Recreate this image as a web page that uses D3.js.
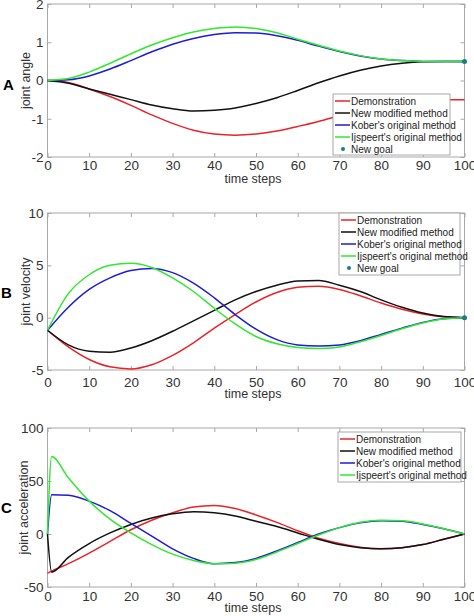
<!DOCTYPE html>
<html>
<head>
<meta charset="utf-8">
<script src="https://cdn.jsdelivr.net/npm/d3@7"></script>
<style>
  body { margin: 0; background: #fff; }
  svg { font-family: "Liberation Sans", Arial, sans-serif; }
</style>
</head>
<body>
<svg id="chart" width="474" height="616"></svg>
<script>
//data
const STEPS = [0, 5, 10, 15, 20, 25, 30, 35, 40, 45, 50, 55, 60, 65, 70, 75, 80, 85, 90, 95, 100];
const ACC_STEPS = [0, 1, 5, 10, 15, 20, 25, 30, 35, 40, 45, 50, 55, 60, 65, 70, 75, 80, 85, 90, 95, 100];

const angleDemo = [0, -0.05, -0.22, -0.42, -0.65, -0.9, -1.12, -1.3, -1.4, -1.43, -1.4, -1.32, -1.2, -1.07, -0.92, -0.78, -0.65, -0.56, -0.51, -0.5, -0.5];
const angleNew = [0, -0.07, -0.22, -0.36, -0.5, -0.64, -0.74, -0.8, -0.78, -0.72, -0.6, -0.45, -0.26, -0.06, 0.12, 0.27, 0.38, 0.45, 0.49, 0.5, 0.5];
const angleKober = [0, 0.02, 0.12, 0.3, 0.52, 0.75, 0.95, 1.1, 1.2, 1.25, 1.24, 1.17, 1.05, 0.9, 0.76, 0.64, 0.56, 0.52, 0.5, 0.5, 0.5];
const angleIjspeert = [0, 0.05, 0.22, 0.45, 0.7, 0.93, 1.12, 1.27, 1.36, 1.4, 1.36, 1.25, 1.08, 0.92, 0.77, 0.65, 0.56, 0.52, 0.5, 0.5, 0.5];

const velDemo = [-1.2, -2.8, -4.0, -4.7, -4.9, -4.5, -3.6, -2.4, -1.0, 0.3, 1.5, 2.4, 2.9, 3.0, 2.7, 2.1, 1.4, 0.8, 0.35, 0.08, 0];
const velNew = [-1.2, -2.6, -3.2, -3.3, -2.9, -2.2, -1.3, -0.3, 0.7, 1.7, 2.5, 3.1, 3.5, 3.55, 3.1, 2.5, 1.7, 1.0, 0.45, 0.1, 0];
const velKober = [-1.2, 1.0, 2.7, 3.8, 4.5, 4.7, 4.3, 3.3, 1.9, 0.3, -1.1, -2.1, -2.6, -2.7, -2.6, -2.2, -1.6, -1.0, -0.45, -0.1, 0];
const velIjspeert = [-1.2, 2.3, 4.1, 5.0, 5.2, 4.8, 3.8, 2.5, 0.9, -0.6, -1.8, -2.5, -2.85, -2.95, -2.8, -2.3, -1.7, -1.05, -0.5, -0.12, 0];

const accDemo = [-37, -35, -28, -18, -7, 4, 13, 20, 25.5, 27, 24, 18, 11, 3, -4, -9, -12.5, -14, -13, -10, -5, 0];
const accNew = [0, -36, -22, -9, 1, 9, 15, 19, 21, 20, 17, 12, 7, 1, -5, -10, -13, -14, -13, -10, -5, 0];
const accKober = [0, 37, 36.5, 31, 22, 10, -2, -14, -23, -28, -27, -23, -16, -8, 0, 6, 10.5, 12.5, 12, 9, 5, 0];
const accIjspeert = [0, 73, 53, 31, 14, 1, -10, -19, -25, -28, -27.5, -24, -17, -9, -1, 6, 11, 13, 12.5, 9.5, 5, 0];

const X_TICKS = [0, 10, 20, 30, 40, 50, 60, 70, 80, 90, 100];
const SERIES_NAMES = ["Demonstration", "New modified method", "Kober's original method", "Ijspeert's original method"];
const SERIES_COLORS = ["#e8242a", "#111111", "#1c1cd6", "#2fe82f"];
const GOAL_COLOR = "#177f7f";

const svg = d3.select("#chart");

const panels = [
  { letter: "A", ylabel: "joint angle", top: 4, bottom: 157, yDomain: [-2, 2], yTicks: [-2, -1, 0, 1, 2],
    steps: STEPS, series: [angleDemo, angleNew, angleKober, angleIjspeert], goal: [100, 0.5],
    legend: { x: 333, y: 94, w: 117, h: 61 }, letterY: 90, xPad: 3, xlabelY: 183 },
  { letter: "B", ylabel: "joint velocity", top: 213, bottom: 370, yDomain: [-5, 10], yTicks: [-5, 0, 5, 10],
    steps: STEPS, series: [velDemo, velNew, velKober, velIjspeert], goal: [100, 0],
    legend: { x: 339, y: 213, w: 121, h: 62 }, letterY: 298, xPad: 7, xlabelY: 398 },
  { letter: "C", ylabel: "joint acceleration", top: 428, bottom: 587, yDomain: [-50, 100], yTicks: [-50, 0, 50, 100],
    steps: ACC_STEPS, series: [accDemo, accNew, accKober, accIjspeert], goal: null,
    legend: { x: 338, y: 432, w: 123, h: 50 }, letterY: 513, xPad: 4, xlabelY: 612 }
];

const LEFT = 47.5, RIGHT = 464.5;

panels.forEach(p => {
  const g = svg.append("g");
  const x = d3.scaleLinear().domain([0, 100]).range([LEFT, RIGHT]);
  const y = d3.scaleLinear().domain(p.yDomain).range([p.bottom, p.top]);

  //box
  g.append("rect")
    .attr("x", LEFT).attr("y", p.top)
    .attr("width", RIGHT - LEFT).attr("height", p.bottom - p.top)
    .attr("fill", "none").attr("stroke", "#a8a8a8").attr("stroke-width", 1);

  //axes, ticks inward
  const plain = d => String(d);
  const xAxis = d3.axisBottom(x).tickValues(X_TICKS).tickSize(-4).tickPadding(p.xPad).tickFormat(plain);
  const xAxisTop = d3.axisTop(x).tickValues(X_TICKS).tickSize(-4).tickFormat("");
  const yAxis = d3.axisLeft(y).tickValues(p.yTicks).tickSize(-4).tickPadding(4).tickFormat(plain);
  const yAxisRight = d3.axisRight(y).tickValues(p.yTicks).tickSize(-4).tickFormat("");

  [[xAxis, `translate(0,${p.bottom})`], [xAxisTop, `translate(0,${p.top})`],
   [yAxis, `translate(${LEFT},0)`], [yAxisRight, `translate(${RIGHT},0)`]].forEach(([ax, tr]) => {
    const a = g.append("g").attr("transform", tr).call(ax);
    a.select(".domain").remove();
    a.selectAll("line").attr("stroke", "#a8a8a8");
    a.selectAll("text").attr("fill", "#333").style("font-size", "13.5px");
  });

  //lines
  const line = d3.line()
    .x((d, i) => x(p.steps[i]))
    .y(d => y(d))
    .curve(d3.curveMonotoneX);

  p.series.forEach((s, k) => {
    g.append("path")
      .datum(s)
      .attr("d", line)
      .attr("fill", "none")
      .attr("stroke", SERIES_COLORS[k])
      .attr("stroke-width", 1.5);
  });

  if (p.goal) {
    g.append("circle")
      .attr("cx", x(p.goal[0])).attr("cy", y(p.goal[1]))
      .attr("r", 2.5).attr("fill", GOAL_COLOR);
  }

  //labels
  g.append("text")
    .attr("x", (LEFT + RIGHT) / 2 - 3).attr("y", p.xlabelY)
    .attr("text-anchor", "middle")
    .attr("fill", "#333")
    .style("font-size", "12.5px")
    .text("time steps");

  const yMid = (p.top + p.bottom) / 2;
  g.append("text")
    .attr("transform", `translate(${p.letter === "C" ? 28 : 30},${yMid}) rotate(-90)`)
    .attr("text-anchor", "middle")
    .attr("fill", "#333")
    .style("font-size", "12.5px")
    .text(p.ylabel);

  g.append("text")
    .attr("x", p.letter === "A" ? 3 : 1).attr("y", p.letterY)
    .attr("font-weight", "bold")
    .style("font-size", "15px")
    .attr("fill", "#000")
    .text(p.letter);

  //legend
  const L = p.legend;
  const leg = g.append("g");
  leg.append("rect")
    .attr("x", L.x).attr("y", L.y).attr("width", L.w).attr("height", L.h)
    .attr("fill", "#fff").attr("stroke", "#a8a8a8");
  const names = p.goal ? SERIES_NAMES.concat(["New goal"]) : SERIES_NAMES;
  names.forEach((n, k) => {
    const ry = L.y + 7 + k * 12;
    if (k < 4) {
      leg.append("line")
        .attr("x1", L.x + 2).attr("x2", L.x + 17)
        .attr("y1", ry).attr("y2", ry)
        .attr("stroke", SERIES_COLORS[k]).attr("stroke-width", 1.5);
    } else {
      leg.append("circle")
        .attr("cx", L.x + 10).attr("cy", ry).attr("r", 2).attr("fill", GOAL_COLOR);
    }
    leg.append("text")
      .attr("x", L.x + 18).attr("y", ry + 3.5)
      .attr("fill", "#222")
      .style("font-size", "10px")
      .text(n);
  });
});
</script>
</body>
</html>
